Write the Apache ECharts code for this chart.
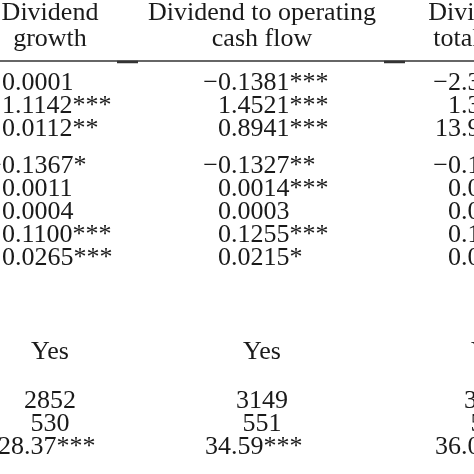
<!DOCTYPE html>
<html><head><meta charset="utf-8">
<script src="https://cdn.jsdelivr.net/npm/echarts@6/dist/echarts.min.js"></script>
<style>html,body{margin:0;padding:0;background:#fff}#c{width:474px;height:474px}</style>
</head><body><div id="c"></div>
<script>
// Table content
const headers1 = ['Dividend', 'Dividend to operating', 'Dividend to'];
const headers2 = ['growth', 'cash flow', 'total assets'];
const rows = [
  ['0.0001', '\u22120.1381***', '\u22122.3'],
  ['1.1142***', '1.4521***', '1.3'],
  ['0.0112**', '0.8941***', '13.9'],
  ['\u22120.1367*', '\u22120.1327**', '\u22120.1'],
  ['0.0011', '0.0014***', '0.0'],
  ['0.0004', '0.0003', '0.0'],
  ['0.1100***', '0.1255***', '0.1'],
  ['0.0265***', '0.0215*', '0.0'],
  ['Yes', 'Yes', 'Yes'],
  ['2852', '3149', '3149'],
  ['530', '551', '551'],
  ['28.37***', '34.59***', '36.0']
];
const rowModes = ['dec','dec','dec','dec','dec','dec','dec','dec','center','center','center','stat'];

// layout (not data)
const rowY = [83,106,129,166,189,212,235,258,352,401,424,447];
const headY = [13,39];
const colCenter = [50,262,490];
const colDec = [15,231,461];
const colStat = [24,231,461];
const FONT = '"Liberation Serif","DejaVu Serif",serif';
const FS = 26, COL = '#1a1a1a';

const cells = [];
rows.forEach((r, ri) => r.forEach((t, ci) => cells.push([ci, ri, t])));
const heads = [];
headers1.forEach((t, ci) => heads.push([ci, 0, t]));
headers2.forEach((t, ci) => heads.push([ci, 1, t]));

function txt(x, y, s, align) {
  return {type:'text', style:{x, y, text:s, fill:COL, font: FS + 'px ' + FONT, align, verticalAlign:'middle'}};
}

const chart = echarts.init(document.getElementById('c'));
chart.setOption({
  animation:false,
  grid:{left:0,right:0,top:0,bottom:0},
  xAxis:{type:'value',min:0,max:474,show:false},
  yAxis:{type:'value',min:0,max:474,inverse:true,show:false},
  series:[
    {
      type:'custom', data: cells,
      renderItem(params, api) {
        const ci = api.value(0), ri = api.value(1), t = cells[params.dataIndex][2];
        const mode = rowModes[ri];
        if (mode === 'center') {
          const p = api.coord([colCenter[ci], rowY[ri]]);
          return txt(p[0], p[1], t, 'center');
        }
        const dx = mode === 'stat' ? colStat[ci] : colDec[ci];
        const p = api.coord([dx, rowY[ri]]);
        const k = t.indexOf('.');
        return {type:'group', children:[
          txt(p[0], p[1], t.slice(0, k), 'right'),
          txt(p[0], p[1], t.slice(k), 'left')
        ]};
      }
    },
    {
      type:'custom', data: heads,
      renderItem(params, api) {
        const d = heads[params.dataIndex];
        const p = api.coord([colCenter[d[0]], headY[d[1]]]);
        return txt(p[0], p[1], d[2], 'center');
      }
    }
  ],
  graphic:[
    {type:'line', shape:{x1:0,y1:61,x2:474,y2:61}, style:{stroke:'#333',lineWidth:1.5}},
    {type:'line', shape:{x1:117,y1:62,x2:138,y2:62}, style:{stroke:'#333',lineWidth:2.5}},
    {type:'line', shape:{x1:384,y1:62,x2:405,y2:62}, style:{stroke:'#333',lineWidth:2.5}}
  ]
});
</script></body></html>
